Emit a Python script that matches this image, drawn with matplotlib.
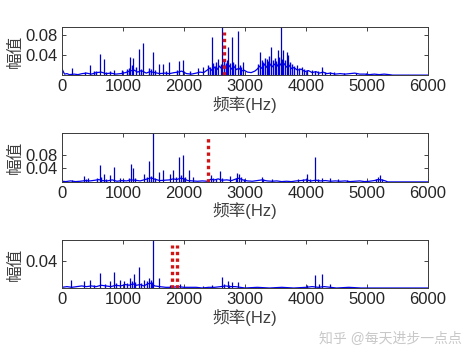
import matplotlib
matplotlib.use('Agg')
from matplotlib import pyplot as plt

plt.rcParams['font.family'] = ['Liberation Sans', 'Noto Sans CJK SC']

# ---- panel 1 ----
p1_peak_f = [164, 453, 616, 682, 845, 1118, 1162, 1260, 1325, 1490, 1582, 1653, 1746, 1920, 1975,
             2236, 2318, 2455, 2564, 2618, 2727, 2782, 2880, 2973, 3246, 3355, 3420, 3545, 3584,
             3627, 3682, 3709, 3845, 3927, 4091, 4255, 4391, 4827]
p1_peak_a = [0.015, 0.020, 0.043, 0.033, 0.010, 0.037, 0.035, 0.053, 0.065, 0.047, 0.023, 0.022, 0.027, 0.029, 0.030,
             0.015, 0.017, 0.077, 0.033, 0.100, 0.057, 0.077, 0.088, 0.027, 0.047, 0.033, 0.057, 0.050, 0.100,
             0.050, 0.047, 0.040, 0.020, 0.017, 0.011, 0.017, 0.007, 0.005]
p1_grass_f = [370, 520, 560, 720, 780, 990, 1060, 1090, 1140, 1210, 1290, 1420, 1460, 1520, 1700, 1880,
              2100, 2400, 2430, 2480, 2510, 2530, 2600, 2650, 2690, 2710, 2760, 2810, 2840, 2910, 2940,
              3210, 3270, 3300, 3320, 3380, 3400, 3460, 3490, 3510, 3560, 3610, 3650, 3740, 3770, 3800,
              3880, 3960, 4020, 4150, 4200, 4310, 4460, 4620, 4980, 5150]
p1_grass_a = [0.006, 0.008, 0.009, 0.007, 0.008, 0.010, 0.012, 0.014, 0.020, 0.016, 0.013, 0.015, 0.012,
              0.010, 0.009, 0.011, 0.008, 0.020, 0.016, 0.024, 0.019, 0.026, 0.022, 0.028, 0.025, 0.030,
              0.024, 0.027, 0.022, 0.021, 0.016, 0.022, 0.030, 0.026, 0.034, 0.028, 0.038, 0.030, 0.035,
              0.029, 0.036, 0.032, 0.030, 0.026, 0.022, 0.019, 0.014, 0.012, 0.011, 0.009, 0.008, 0.007,
              0.006, 0.005, 0.004, 0.003]
p1_floor_f = [0, 40, 80, 120, 200, 260, 330, 400, 480, 560, 640, 720, 800, 880, 960, 1040, 1100, 1180,
              1240, 1300, 1380, 1440, 1520, 1600, 1680, 1760, 1840, 1900, 1960, 2040, 2120, 2200, 2260,
              2320, 2380, 2420, 2460, 2500, 2540, 2580, 2620, 2660, 2700, 2740, 2780, 2820, 2860, 2900,
              2940, 2980, 3040, 3100, 3160, 3200, 3240, 3280, 3320, 3360, 3400, 3440, 3480, 3520, 3560,
              3600, 3640, 3680, 3720, 3760, 3800, 3860, 3920, 3980, 4040, 4100, 4160, 4220, 4280, 4340,
              4400, 4480, 4560, 4640, 4720, 4800, 4880, 4960, 5040, 5120, 5200, 5280, 5360, 5420, 6000]
p1_floor_a = [0.012, 0.002, 0.003, 0.001, 0.002, 0.001, 0.003, 0.004, 0.002, 0.005, 0.006, 0.003, 0.004,
              0.002, 0.003, 0.005, 0.008, 0.010, 0.006, 0.009, 0.004, 0.007, 0.005, 0.003, 0.004, 0.003,
              0.005, 0.006, 0.008, 0.003, 0.002, 0.004, 0.006, 0.005, 0.010, 0.014, 0.009, 0.016, 0.011,
              0.018, 0.012, 0.020, 0.013, 0.019, 0.012, 0.017, 0.011, 0.014, 0.008, 0.010, 0.006, 0.005,
              0.008, 0.012, 0.018, 0.013, 0.022, 0.015, 0.024, 0.016, 0.022, 0.017, 0.025, 0.018, 0.023,
              0.016, 0.020, 0.013, 0.015, 0.010, 0.012, 0.007, 0.009, 0.005, 0.007, 0.004, 0.006, 0.003,
              0.004, 0.002, 0.003, 0.002, 0.003, 0.004, 0.002, 0.002, 0.001, 0.002, 0.001, 0.002, 0.001,
              0.0, 0.0]
p1_marks = [2650]
p1_mark_top = 0.086

# ---- panel 2 ----
p2_peak_f = [164, 355, 420, 616, 682, 791, 845, 944, 1129, 1162, 1336, 1429, 1490, 1582, 1647, 1773,
             1811, 1920, 1975, 2078, 2144, 2444, 2591, 2755, 2875, 2908, 3273, 3437, 3873, 4009, 4145,
             4255, 4391, 4527, 4664, 5182, 5209]
p2_peak_a = [0.007, 0.017, 0.013, 0.050, 0.025, 0.020, 0.043, 0.013, 0.052, 0.040, 0.025, 0.063, 0.150,
             0.030, 0.035, 0.025, 0.035, 0.073, 0.080, 0.035, 0.015, 0.020, 0.033, 0.017, 0.027, 0.023,
             0.015, 0.010, 0.010, 0.025, 0.073, 0.013, 0.013, 0.010, 0.007, 0.015, 0.020]
p2_grass_f = [390, 580, 640, 720, 1000, 1090, 1200, 1400, 1460, 1520, 1860, 1950, 2010, 2480, 2520,
              2620, 2850, 2940, 2980, 3300, 3950, 4060, 4200, 5150, 5250]
p2_grass_a = [0.010, 0.012, 0.014, 0.010, 0.009, 0.012, 0.011, 0.014, 0.018, 0.013, 0.016, 0.020, 0.014,
              0.012, 0.010, 0.011, 0.013, 0.016, 0.010, 0.009, 0.008, 0.009, 0.008, 0.010, 0.009]
p2_floor_f = [0, 60, 140, 220, 300, 380, 460, 540, 600, 660, 740, 820, 900, 980, 1060, 1120, 1200, 1280,
              1360, 1420, 1460, 1520, 1600, 1680, 1760, 1820, 1880, 1940, 2000, 2060, 2140, 2220, 2300,
              2380, 2440, 2500, 2560, 2620, 2700, 2780, 2840, 2900, 2960, 3040, 3120, 3200, 3280, 3360,
              3440, 3520, 3600, 3680, 3760, 3840, 3920, 4000, 4080, 4160, 4240, 4320, 4400, 4480, 4560,
              4640, 4720, 4800, 4880, 4960, 5040, 5120, 5180, 5240, 5300, 5340, 6000]
p2_floor_a = [0.002, 0.001, 0.003, 0.001, 0.002, 0.004, 0.003, 0.005, 0.007, 0.004, 0.003, 0.006, 0.002,
              0.004, 0.003, 0.006, 0.005, 0.003, 0.007, 0.010, 0.012, 0.008, 0.004, 0.005, 0.006, 0.009,
              0.007, 0.011, 0.009, 0.004, 0.003, 0.002, 0.003, 0.002, 0.008, 0.006, 0.009, 0.005, 0.006,
              0.004, 0.008, 0.011, 0.006, 0.003, 0.002, 0.004, 0.006, 0.003, 0.002, 0.003, 0.001, 0.002,
              0.001, 0.003, 0.004, 0.006, 0.003, 0.005, 0.003, 0.004, 0.002, 0.003, 0.002, 0.003, 0.001,
              0.002, 0.003, 0.001, 0.002, 0.004, 0.007, 0.006, 0.003, 0.0, 0.0]
p2_marks = [2400]
p2_mark_top = 0.131

# ---- panel 3 ----
p3_peak_f = [153, 355, 453, 616, 780, 845, 955, 1020, 1107, 1173, 1265, 1347, 1429, 1490, 1593, 1773,
             1936, 2318, 2455, 2618, 2716, 2782, 2880, 4009, 4145, 4211, 4266, 4391]
p3_peak_a = [0.012, 0.0096, 0.011, 0.0217, 0.0096, 0.0227, 0.012, 0.0096, 0.0145, 0.0207, 0.0304, 0.012,
             0.0145, 0.075, 0.0145, 0.005, 0.006, 0.0024, 0.005, 0.0154, 0.0096, 0.0087, 0.0087, 0.005,
             0.019, 0.006, 0.020, 0.006]
p3_grass_f = [520, 700, 880, 1060, 1140, 1200, 1300, 1400, 1450, 1470, 2650, 2740]
p3_grass_a = [0.005, 0.006, 0.007, 0.008, 0.010, 0.009, 0.008, 0.010, 0.012, 0.009, 0.006, 0.005]
p3_floor_f = [0, 80, 160, 240, 320, 400, 480, 560, 640, 720, 800, 880, 960, 1040, 1100, 1160, 1220, 1280,
              1340, 1400, 1450, 1520, 1600, 1700, 1800, 1900, 2000, 2100, 2200, 2300, 2400, 2500, 2600,
              2680, 2760, 2840, 2920, 3000, 3200, 3400, 3600, 3800, 4000, 4100, 4200, 4300, 4400, 4500,
              4700, 4900, 5100, 5300, 6000]
p3_floor_a = [0.001, 0.002, 0.001, 0.002, 0.003, 0.002, 0.003, 0.002, 0.004, 0.003, 0.002, 0.004, 0.003,
              0.005, 0.004, 0.006, 0.004, 0.005, 0.003, 0.006, 0.007, 0.003, 0.002, 0.001, 0.001, 0.002,
              0.001, 0.001, 0.001, 0.0, 0.001, 0.001, 0.002, 0.003, 0.002, 0.002, 0.001, 0.0, 0.001, 0.0,
              0.001, 0.0, 0.001, 0.002, 0.001, 0.002, 0.001, 0.0, 0.001, 0.0, 0.0, 0.0, 0.0]
p3_marks = [1800, 1880]
p3_mark_top = 0.063

panels = [
    (p1_peak_f, p1_peak_a, p1_grass_f, p1_grass_a, p1_floor_f, p1_floor_a, p1_marks, p1_mark_top, 0.096, [0.04, 0.08]),
    (p2_peak_f, p2_peak_a, p2_grass_f, p2_grass_a, p2_floor_f, p2_floor_a, p2_marks, p2_mark_top, 0.146, [0.04, 0.08]),
    (p3_peak_f, p3_peak_a, p3_grass_f, p3_grass_a, p3_floor_f, p3_floor_a, p3_marks, p3_mark_top, 0.070, [0.04]),
]
xticks = [0, 1000, 2000, 3000, 4000, 5000, 6000]
tick_labels = ['0.04', '0.08']

positions = [[0.131, 0.789, 0.772, 0.135],
             [0.131, 0.489, 0.772, 0.138],
             [0.131, 0.191, 0.772, 0.135]]

fig = plt.figure(figsize=(4.74, 3.56), dpi=100)
blue = '#0000ee'
for pos, (pf, pa, gf, ga, ff, fa, marks, mtop, ytop, yt) in zip(positions, panels):
    ax = fig.add_axes(pos)
    ax.plot(ff, fa, color=blue, lw=0.9)
    ax.vlines(gf, 0, ga, color=blue, lw=1.0)
    ax.vlines(pf, 0, pa, color='#0000c0', lw=0.9)
    for m in marks:
        ax.plot([m, m], [0, mtop], color='#d01515', lw=2.4, ls=(0, (1, 1)))
    ax.set_xlim(0, 6000)
    ax.set_ylim(0, ytop)
    ax.set_xticks(xticks)
    ax.set_yticks(yt)
    ax.set_yticklabels(tick_labels[:len(yt)])
    ax.tick_params(direction='in', top=True, right=True, length=3, width=0.6,
                   labelsize=12, colors='#262626', pad=3)
    for s in ax.spines.values():
        s.set_color('#3a3a3a')
        s.set_linewidth(0.7)
    ax.set_xlabel('频率(Hz)', fontsize=12, color='#404040', labelpad=1)
    ax.set_ylabel('幅值', fontsize=12, color='#404040', labelpad=2)

fig.text(0.975, 0.03, '知乎 @每天进步一点点', ha='right', va='bottom',
         fontsize=10, color='#c8c8c8')

fig.savefig('out.png', dpi=100)
